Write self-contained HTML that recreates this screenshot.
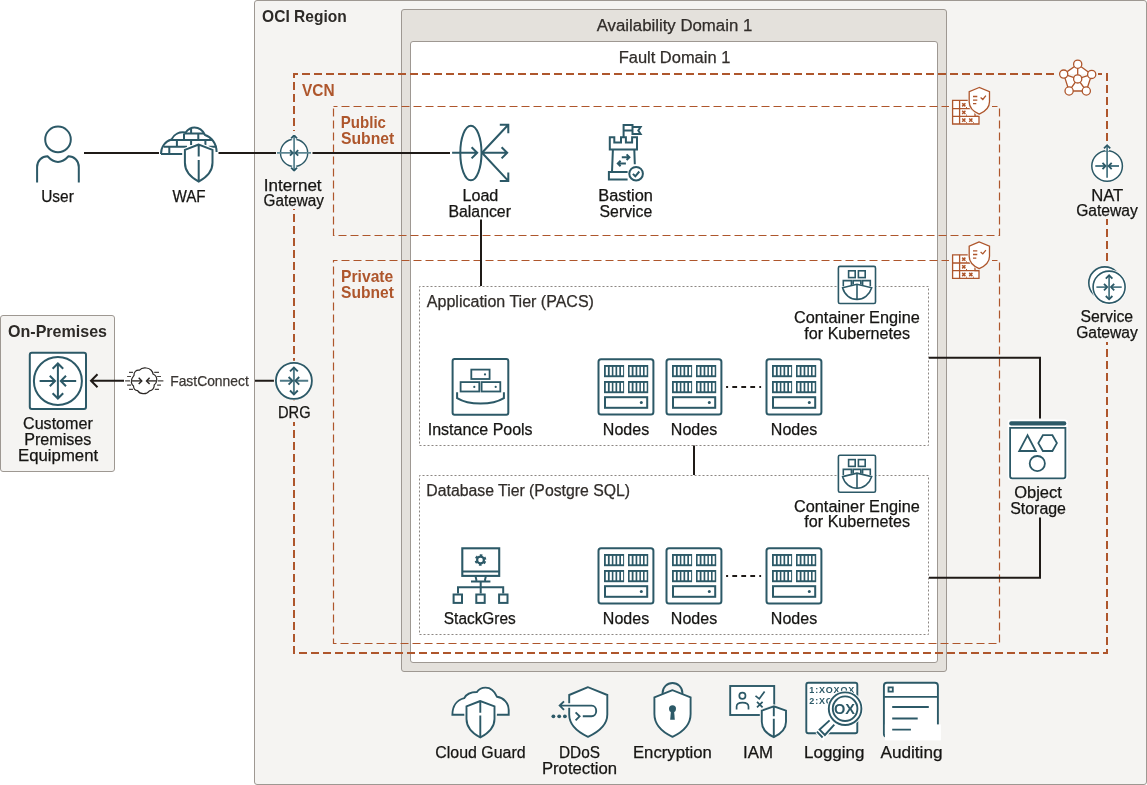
<!DOCTYPE html>
<html><head><meta charset="utf-8"><title>OCI Architecture</title>
<style>
html,body{margin:0;padding:0;background:#fff;width:1147px;height:785px;overflow:hidden}
svg{display:block;will-change:transform}
text{font-family:"Liberation Sans",sans-serif;font-size:16px;fill:#161513;stroke:#161513;stroke-width:0.25px}
.h{fill:#312d2a;stroke:#312d2a}
.fc{font-size:14.5px;fill:#3a3633;stroke:#3a3633}
.b{font-weight:bold;font-size:16.5px;fill:#2d2a27;stroke:none}
.o{fill:#ae562c;font-weight:bold;font-size:16.5px;stroke:none}
.ic{fill:none;stroke:#2c5967;stroke-width:2;stroke-linecap:butt;stroke-linejoin:miter}
.icw{fill:#fff;stroke:#2c5967;stroke-width:2}
.or{fill:none;stroke:#ae562c;stroke-width:1.3}
.orw{fill:#fff;stroke:#ae562c;stroke-width:1.3}
.ln{fill:none;stroke:#1f1a17;stroke-width:2}
</style></head>
<body>
<svg width="1147" height="785" viewBox="0 0 1147 785">
<!-- containers -->
<rect x="254.5" y="0.5" width="892" height="784" rx="2.5" fill="#f5f4f2" stroke="#9e9892" stroke-width="1"/>
<rect x="401.5" y="9.5" width="545" height="662" rx="2.5" fill="#e4e1dc" stroke="#9e9892" stroke-width="1"/>
<rect x="410.5" y="41.5" width="527" height="621" rx="2.5" fill="#fff" stroke="#9e9892" stroke-width="1"/>

<!-- on-premises -->
<rect x="0.5" y="315.5" width="114" height="156" rx="2.5" fill="#f5f4f2" stroke="#9e9892" stroke-width="1"/>

<!-- VCN & subnets -->
<rect x="294" y="74" width="813" height="579" fill="none" stroke="#ae562c" stroke-width="2" stroke-dasharray="8 4" stroke-dashoffset="4"/>
<rect x="333.5" y="106.5" width="666" height="129" fill="none" stroke="#ae562c" stroke-width="1.2" stroke-dasharray="8 4" stroke-dashoffset="4"/>
<rect x="333.5" y="260.5" width="666" height="383" fill="none" stroke="#ae562c" stroke-width="1.2" stroke-dasharray="8 4" stroke-dashoffset="4"/>

<!-- tiers -->
<rect x="419.5" y="286.5" width="509" height="159" fill="none" stroke="#8c8783" stroke-width="1" stroke-dasharray="2 2" stroke-dashoffset="1"/>
<rect x="419.5" y="475.5" width="509" height="159" fill="none" stroke="#8c8783" stroke-width="1" stroke-dasharray="2 2" stroke-dashoffset="1"/>

<!-- connectors -->
<path class="ln" d="M84 153H159 M218.5 153H276 M312.5 153H450 M481 219.5V286 M694 445.5V475 M929 357.8H1040V418.5 M929 577.8H1040V517.5 M255 380.8H274"/>
<path d="M124 380.8H91 M97.5 374.3L91 380.8L97.5 387.3" fill="none" stroke="#1f1a17" stroke-width="2"/>
<path d="M726.1 387H761.1" fill="none" stroke="#1f1a17" stroke-width="2" stroke-dasharray="4.8 4.2" stroke-dashoffset="2.8"/>
<path d="M726.1 576H761.1" fill="none" stroke="#1f1a17" stroke-width="2" stroke-dasharray="4.8 4.2" stroke-dashoffset="2.8"/>

<!-- ICONS -->
<g id="icons">
<!-- User -->
<circle cx="58" cy="139.4" r="12.8" class="ic" stroke-width="2.2"/>
<path class="ic" stroke-width="2.2" d="M37.1 182.4V167C37.1 160.5 42 156.3 47.5 156.3Q58 167.6 68.5 156.3C74 156.3 78.8 160.5 78.8 167V182.4"/>
<!-- WAF -->
<g class="ic" stroke-width="1.8">
<path fill="#fff" d="M161 154C161 146.5 165.5 141 171.5 139.5C174 134 179.5 131.5 185.5 132.6C188 129.5 191 127.6 194.5 127.6C199.5 127.6 203 131 205 135C211.5 137 216.6 143.5 216.6 152"/>
<path d="M161 153.9H182.2 M184.4 133.4H204 M171 140H212 M164 146.8H187 M208.5 146.8H216.5 M191.1 128V133.4 M184 133.4V140 M198.3 133.4V140 M176.9 140V146.8 M191.1 140V145 M205.4 140V145.5 M169.3 146.8V153.9"/>
<path fill="#fff" stroke="#fff" stroke-width="4" d="M198.7 144.5L184.9 149.9V162.8C184.9 171 191 177.5 198.7 181.6C206.4 177.5 212.5 171 212.5 162.8V149.9Z"/>
<path fill="#fff" d="M198.7 144.5L184.9 149.9V162.8C184.9 171 191 177.5 198.7 181.6C206.4 177.5 212.5 171 212.5 162.8V149.9Z M198.7 144.5V156.6 M198.7 160.1V181.6"/>
</g>
<!-- Internet Gateway -->
<circle cx="294.1" cy="152.9" r="13.6" fill="#fff" stroke="#2c5967" stroke-width="1.4"/>
<path fill="none" stroke="#fff" stroke-width="3.5" d="M294.1 134V141 M294.1 164.8V172 M290.8 138.4L294.1 135.1L297.4 138.4 M290.8 167.4L294.1 170.7L297.4 167.4"/>
<path fill="none" stroke="#5d8692" stroke-width="1.8" d="M294.1 135.3V170.7 M277 152.9H311"/>
<path fill="none" stroke="#2c5967" stroke-width="1.8" d="M291.1 138.3L294.1 135.3L297.1 138.3 M291.1 167.7L294.1 170.7L297.1 167.7 M290 150.2L292.7 152.9L290 155.6 M298.2 150.2L295.5 152.9L298.2 155.6"/>
<!-- Load Balancer -->
<g class="ic" stroke-width="2">
<ellipse cx="470.9" cy="153" rx="10.6" ry="27.3"/>
<path d="M452.1 152.8H477 M471.6 147.2L477.2 152.8L471.6 158.4 M482 152.8H507 M501.6 147.2L507.2 152.8L501.6 158.4 M482 152.8L507.8 125.2 M499.8 124.7H508.3V133.2 M482 152.8L507.8 180.4 M499.8 180.9H508.3V172.4"/>
</g>
<!-- Bastion -->
<g class="ic" stroke-width="1.9">
<path d="M609.8 149.6V137.2H614.3V142.5H621V137.2H625.9V142.5H632.1V137.2H637V149.6Z"/>
<path d="M612.9 149.6L612 172 M634.3 149.6L634.8 164.3 M627.6 172H608.9V179.5H627.6"/>
<path d="M623.6 137.2V125.1H632.5V130.4H623.6 M632.5 127H640.6L638.3 130.5L640.6 134H632.5V130.4"/>
<path d="M621.8 157.2H629.2 M626.6 154.4L629.4 157.2L626.6 160 M625.9 163.5H617.8 M620.6 160.7L617.8 163.5L620.6 166.3"/>
<circle cx="636.1" cy="173.7" r="6.8" fill="#fff"/>
<path d="M632.9 173.9L635.3 176.3L639.3 171.5"/>
</g>
<!-- label halos on VCN line -->
<rect x="264" y="171.5" width="60" height="37.5" fill="#f5f4f2"/>
<rect x="277" y="401" width="34" height="21" fill="#f5f4f2"/>
<rect x="1076" y="181" width="62" height="38" fill="#f5f4f2"/>
<rect x="1076" y="302" width="62" height="40" fill="#f5f4f2"/>
<rect x="1057" y="70" width="41" height="8" fill="#f5f4f2"/>
<rect x="949" y="102" width="43" height="8" fill="#f5f4f2"/>
<rect x="949" y="256" width="43" height="8" fill="#f5f4f2"/>
<rect x="290" y="131" width="8" height="4" fill="#f5f4f2"/>
<!-- VCN icon -->
<g fill="none" stroke="#ae562c" stroke-width="1.3">
<path fill="#fff" d="M1077.7 64.2L1091.7 74.4L1086.3 91H1069.1L1063.7 74.1Z M1077.7 64.2V78.9 M1063.7 74.1L1077.7 78.9L1091.7 74.4 M1069.1 91L1077.7 78.9L1086.3 91"/>
<circle cx="1077.7" cy="64.2" r="4.1" fill="#fff"/>
<circle cx="1063.7" cy="74.1" r="4.1" fill="#fff"/>
<circle cx="1091.7" cy="74.4" r="4.1" fill="#fff"/>
<circle cx="1069.1" cy="91" r="4.1" fill="#fff"/>
<circle cx="1086.3" cy="91" r="4.1" fill="#fff"/>
<circle cx="1077.7" cy="78.9" r="4.1" fill="#fff"/>
</g>
<!-- Security lists -->
<g id="sl" fill="none" stroke="#ae562c" stroke-width="1.3">
<path fill="#fff" d="M952.6 100.4H975V116.3H979V124H952.6Z"/>
<path d="M952.6 108.6H975 M952.6 116.3H979 M959.6 100.4V124"/>
<path stroke-width="1.5" d="M962.2 103.2L965.4 106.4M965.4 103.2L962.2 106.4 M962.2 110.8L965.4 114M965.4 110.8L962.2 114 M962.2 118.5L965.4 121.7M965.4 118.5L962.2 121.7 M969.2 118.5L972.4 121.7M972.4 118.5L969.2 121.7"/>
<path stroke-width="1" d="M966.5 107V108 M966.5 114.6V115.6 M966.5 122.3V123.3 M973.5 122.3V123.3"/>
<path fill="#fff" stroke="#f5f4f2" stroke-width="3" d="M979.2 87.5L969.2 91.7V101.8C969.2 107.5 973 111.5 979.2 114.2C985.4 111.5 989.5 107.5 989.5 101.8V91.7Z"/>
<path fill="#fff" d="M979.2 87.5L969.2 91.7V101.8C969.2 107.5 973 111.5 979.2 114.2C985.4 111.5 989.5 107.5 989.5 101.8V91.7Z"/>
<path d="M973 96.5H977.3 M973 100.1H977.3 M973 103.7H976.3 M980.6 97.6L982.8 99.5L985.9 95.7"/>
</g>
<use href="#sl" x="0" y="154.4"/>
<!-- NAT Gateway -->
<circle cx="1107.1" cy="166" r="15.3" fill="#fff" stroke="#2c5967" stroke-width="1.5"/>
<path fill="none" stroke="#fff" stroke-width="3.5" d="M1107.1 144V151"/>
<path fill="none" stroke="#4f7a87" stroke-width="1.8" d="M1107.1 177.8V145.3 M1095.3 166H1105.4 M1119 166H1108.8"/>
<path fill="none" stroke="#2c5967" stroke-width="1.8" d="M1104 148.3L1107.1 145.2L1110.2 148.3 M1102.5 162.9L1105.6 166L1102.5 169.1 M1111.7 162.9L1108.6 166L1111.7 169.1"/>
<!-- Service Gateway -->
<circle cx="1104.8" cy="282.9" r="18.2" fill="#f5f4f2"/>
<circle cx="1104.8" cy="282.9" r="16" fill="#fff" stroke="#2c5967" stroke-width="1.6"/>
<circle cx="1109.1" cy="287.1" r="17.6" fill="#fff"/>
<circle cx="1109.1" cy="287.1" r="16" fill="#fff" stroke="#2c5967" stroke-width="1.6"/>
<path fill="none" stroke="#4f7a87" stroke-width="1.8" d="M1109.1 275.5V299 M1096.4 287.1H1107 M1121.7 287.1H1111.2"/>
<path fill="none" stroke="#2c5967" stroke-width="1.8" d="M1105.8 278.6L1109.1 275.3L1112.4 278.6 M1105.8 296L1109.1 299.3L1112.4 296 M1104 283.9L1107.2 287.1L1104 290.3 M1114.2 283.9L1111 287.1L1114.2 290.3"/>
<!-- Container Engine -->
<g id="oke" fill="none" stroke="#2c5967" stroke-width="1.6">
<rect x="838.4" y="266.4" width="37.1" height="37.1" rx="1.5" fill="#fff"/>
<rect x="848.6" y="270.8" width="6.6" height="6.8"/>
<rect x="858.4" y="270.8" width="6.8" height="6.8"/>
<path d="M843.3 286.3V280.6H851.4V285 M853.2 284.6V280.6H860.8V284.6 M862.6 285V280.6H870.3V286.3"/>
<path fill="#fff" d="M842.6 287.8L857 284.3L871.7 287.8C869.5 295 863.5 299.4 857 299.4C850.5 299.4 844.5 295 842.6 287.8Z"/>
<path d="M857 284.3V299.4"/>
</g>
<use href="#oke" x="0" y="188.8"/>
<!-- Instance Pools -->
<g fill="none" stroke="#2c5967" stroke-width="2">
<rect x="452.6" y="358.9" width="55.7" height="55.8" rx="2"/>
<rect x="471.3" y="369.6" width="18.3" height="9.4" stroke-width="1.8"/>
<rect x="460.6" y="382.1" width="18.7" height="9.4" stroke-width="1.8"/>
<rect x="481.6" y="382.1" width="18.7" height="9.4" stroke-width="1.8"/>
<path d="M457.1 392.2V398.2C463 401.8 471 403.6 480.5 403.6C490 403.6 498 401.8 503.9 398.2V392.2"/>
</g>
<g fill="#2c5967"><circle cx="485" cy="374.4" r="1.1"/><circle cx="474.3" cy="386.9" r="1.1"/><circle cx="495.7" cy="386.9" r="1.1"/></g>
<!-- Node symbol -->
<g id="node">
<rect x="598.5" y="359.2" width="54.9" height="55.3" rx="2.5" fill="#fff" stroke="#2c5967" stroke-width="2"/>
<g fill="#2c5967">
<rect x="604" y="365" width="20.1" height="12.2"/><rect x="628" y="365" width="20.2" height="12.2"/>
<rect x="604" y="381" width="20.1" height="12.2"/><rect x="628" y="381" width="20.2" height="12.2"/>
</g>
<g fill="#fff" id="slits"><rect x="605.8" y="366.9" width="2.1" height="8.4"/><rect x="609.7" y="366.9" width="2.1" height="8.4"/><rect x="613.4" y="366.9" width="2.1" height="8.4"/><rect x="617.2" y="366.9" width="2.1" height="8.4"/><rect x="621.0" y="366.9" width="2.1" height="8.4"/><rect x="629.6" y="366.9" width="2.1" height="8.4"/><rect x="633.5" y="366.9" width="2.1" height="8.4"/><rect x="637.3" y="366.9" width="2.1" height="8.4"/><rect x="640.9" y="366.9" width="2.1" height="8.4"/><rect x="644.6" y="366.9" width="2.1" height="8.4"/></g>
<use href="#slits" x="0" y="16"/>
<rect x="605" y="397.2" width="42.2" height="10.6" fill="none" stroke="#2c5967" stroke-width="2"/>
<circle cx="641.3" cy="402.6" r="1.5" fill="#2c5967"/>
</g>
<use href="#node" x="68" y="0"/>
<use href="#node" x="168" y="0"/>
<use href="#node" x="0" y="189"/>
<use href="#node" x="68" y="189"/>
<use href="#node" x="168" y="189"/>
<!-- StackGres -->
<g fill="none" stroke="#2c5967" stroke-width="2">
<rect x="462.3" y="548.3" width="36.9" height="27.6" stroke-width="2.1"/>
<path d="M462.3 571.5H499.2 M475.6 576.6L476.5 580.4 M485.8 576.6L484.9 580.4 M471 581.4H490.4 M480.7 581.4V593.5 M458 593.5V587.3H503.2V593.5"/>
<rect x="453.6" y="594.5" width="8.4" height="8.4"/>
<rect x="476.3" y="594.5" width="8.4" height="8.4"/>
<rect x="499.1" y="594.5" width="8.4" height="8.4"/>
<circle cx="480.5" cy="560" r="3.4" stroke-width="2.2"/>
<circle cx="480.5" cy="560" r="4.9" stroke-width="1.9" stroke-dasharray="2.6 2.53" stroke-dashoffset="3.83"/>
</g>
<!-- Object Storage -->
<g fill="none" stroke="#2c5967" stroke-width="1.8">
<rect x="1007.7" y="419.6" width="60.1" height="60.3" rx="3" fill="#fff" stroke="none"/>
<rect x="1009.2" y="421.2" width="57.1" height="4.4" rx="2" fill="#2c5967" stroke="none"/>
<path fill="#fff" d="M1010.1 427.9H1065.4V476.3Q1065.4 478.3 1063.4 478.3H1012.1Q1010.1 478.3 1010.1 476.3Z"/>
<path d="M1027.5 435.3L1019.2 451H1035.8Z"/>
<path d="M1038.3 443.1L1042.9 435.2H1052.4L1056.9 443.1L1052.4 451H1042.9Z"/>
<circle cx="1037.3" cy="463.6" r="7.6"/>
</g>
<!-- CPE -->
<g fill="none" stroke="#2c5967" stroke-width="2">
<rect x="29.8" y="352.8" width="56.2" height="56.3" rx="2" fill="#fff"/>
<circle cx="57.9" cy="381" r="24"/>
<path d="M57.9 363.5V398.5 M52.6 368.8L57.9 363.5L63.2 368.8 M52.6 393.2L57.9 398.5L63.2 393.2 M39.6 381H55 M49.8 375.8L55 381L49.8 386.2 M76.2 381H60.8 M66 375.8L60.8 381L66 386.2"/>
</g>
<!-- FastConnect -->
<g fill="none">
<path stroke="#4a4643" stroke-width="1.2" d="M129 372.4H133 M127.1 376.5H131 M125.1 380.9H130 M127.1 385.2H131 M129 389.3H133 M154.2 372.4H159 M157.1 376.5H161 M157.8 380.9H163.4 M157.1 385.2H161 M154.8 389.3H159"/>
<path fill="#fff" stroke="#2a2624" stroke-width="1.2" d="M133.5 386C131.2 384.5 130.8 381 132 378.5C132.8 377 133.5 376 134 375.3C133.8 372 136 369.8 139.5 370.2C141 368.3 144 367.6 146.5 368C150 368.3 152.7 371 153 374C155.5 375 157 377.5 156.7 380.5C156.6 382.5 155.5 384 154.2 385C154.5 388 152.5 390.5 149.5 390.8C148 392.8 145.5 393.8 143 393.6C140.5 393.5 138.5 392 137.6 390.6C135.3 390.5 133.6 388.5 133.5 386Z"/>
<path stroke="#5e5a57" stroke-width="1.6" d="M131.7 380.9H141.2 M146.9 380.9H156.3"/>
<path stroke="#2a2624" stroke-width="1.4" d="M138.7 377.8L141.8 380.9L138.7 384 M149.6 377.8L146.5 380.9L149.6 384"/>
</g>
<!-- DRG -->
<circle cx="293.9" cy="380.8" r="20" fill="#f5f4f2"/>
<circle cx="293.9" cy="380.8" r="18" fill="#fff" stroke="#2c5967" stroke-width="1.8"/>
<path fill="none" stroke="#4f7a87" stroke-width="1.9" d="M293.9 367.6V394.3 M279.9 380.8H291.8 M308.2 380.8H296"/>
<path fill="none" stroke="#2c5967" stroke-width="1.9" d="M290 371.4L293.9 367.5L297.8 371.4 M290 390.5L293.9 394.4L297.8 390.5 M288.6 377L292.4 380.8L288.6 384.6 M299.2 377L295.4 380.8L299.2 384.6"/>
<!-- Cloud Guard -->
<g fill="none" stroke="#2c5967" stroke-width="1.9">
<path fill="#fff" d="M464.3 714.8H452.4C452.4 706 457 700 464.3 698.2C466 694.5 470.5 692 476.9 692C479 688.8 482 687.6 485.5 687.6C490.5 687.6 494.5 691 496.9 696.7C503.5 697.5 508.7 703 508.7 710.1V714.8H496.9"/>
<path fill="#fff" d="M480.3 701L466.5 706.4V718.9C466.5 727 472 733 480.3 737.5C488.6 733 494.5 727 494.5 718.9V706.4Z M480.3 701V712.8 M480.3 715.6V737.5"/>
</g>
<!-- DDoS -->
<g fill="none" stroke="#2c5967" stroke-width="1.9">
<path fill="#fff" d="M588 687.2L569.2 695V714.5C569.2 724.5 576.5 731.5 588 736.8C599.5 731.5 607.3 724.5 607.3 714.5V695Z"/>
<path stroke="#fff" stroke-width="4.5" d="M562 705.6H591.7C594.5 705.6 596.2 708.2 596.2 711C596.2 713.8 594.3 716.3 591.5 716.3H583"/>
<path d="M560 705.6H591.7C594.5 705.6 596.2 708.2 596.2 711C596.2 713.8 594.3 716.3 591.5 716.3H582.8 M564 701.3L559.7 705.6L564 709.9 M575.6 712.3L579.6 716.3L575.6 720.3"/>
<circle cx="553.4" cy="716.3" r="1.9" fill="#2c5967" stroke="none"/>
<circle cx="559.2" cy="716.3" r="1.9" fill="#2c5967" stroke="none"/>
<circle cx="564.9" cy="716.3" r="1.9" fill="#2c5967" stroke="none"/>
</g>
<!-- Encryption -->
<g fill="none" stroke="#2c5967" stroke-width="1.9">
<path d="M662.6 697V692.9A9.9 9.9 0 0 1 682.4 692.9V697"/>
<path fill="#fff" d="M672.5 690.2L654.4 697.3V714C654.4 724.5 661 731.5 672.5 736.8C684 731.5 690.6 724.5 690.6 714V697.3Z"/>
<circle cx="672.5" cy="708.8" r="3.5" fill="#2c5967" stroke="none"/>
<path d="M671 710L670.2 719.8H674.8L674 710Z" fill="#2c5967" stroke="none"/>
</g>
<!-- IAM -->
<g fill="none" stroke="#2c5967" stroke-width="1.9">
<rect x="730.2" y="686" width="44" height="29" fill="#fff"/>
<circle cx="742.4" cy="695.8" r="3.1" stroke-width="1.7"/>
<path stroke-width="1.7" d="M736.6 709.5V706.5C736.6 704 739 702.6 742.5 702.6C746 702.6 748.5 704 748.5 706.5V709.5 M755.5 695.8L759.3 698.8L764.6 691.6 M757 701.8L762.6 707.4 M762.6 701.8L757 707.4"/>
<path fill="#fff" stroke="#f5f4f2" stroke-width="4" d="M773.8 706.3L761.8 710.7V721.8C761.8 729 766 733.5 773.8 737.2C781.6 733.5 786 729 786 721.8V710.7Z"/>
<path fill="#fff" d="M773.8 706.3L761.8 710.7V721.8C761.8 729 766 733.5 773.8 737.2C781.6 733.5 786 729 786 721.8V710.7Z M773.8 706.3V716.3 M773.8 718.8V737.2"/>
</g>
<!-- Logging -->
<g fill="none" stroke="#2c5967" stroke-width="1.9">
<rect x="806.3" y="682.7" width="51" height="50.5" rx="2" fill="#fff"/>
<text x="809.3" y="692.6" style="font-size:9px;font-weight:bold;fill:#2c5967;stroke:none" textLength="45" lengthAdjust="spacing">1:XOXOX</text>
<text x="809.3" y="704" style="font-size:9px;font-weight:bold;fill:#2c5967;stroke:none" textLength="45" lengthAdjust="spacing">2:XOXOX</text>
<circle cx="845.1" cy="708.7" r="18.2" fill="#fff" stroke="none"/>
<path fill="#fff" stroke="#fff" stroke-width="4" d="M829.6 720.4L834.3 724.6L824.8 735.2L817 731.6L822.6 737.6Z"/>
<path fill="#fff" d="M829.6 720.4L819.6 729.6L824.9 735L834.3 724.6 M816.9 731.6L822.6 737.5"/>
<circle cx="845.1" cy="708.7" r="16.3"/>
<circle cx="845.1" cy="708.7" r="12.3"/>
<text x="844.5" y="713.6" text-anchor="middle" style="font-size:13.8px;font-weight:bold;fill:#2c5967;stroke:none" textLength="21" lengthAdjust="spacingAndGlyphs">OX</text>
</g>
<!-- Auditing -->
<g fill="none" stroke="#2c5967" stroke-width="1.9">
<rect x="883.9" y="682.8" width="54" height="54" rx="3" fill="#fff"/>
<rect x="884.9" y="724.4" width="56" height="16" fill="#fff" stroke="none"/>
<path d="M883.9 696.9H937.9 M892.2 707H928.8 M892.2 718.5H917.7 M892.2 729.6H910.9"/>
<rect x="888.5" y="687.4" width="4.3" height="4.2" stroke-width="1.8"/>
</g>
<!--ICONS4-->
</g>

<!-- labels -->
<text x="304.4" y="21.6" text-anchor="middle" class="b" textLength="84.6" lengthAdjust="spacingAndGlyphs">OCI Region</text>
<text x="674.5" y="30.6" text-anchor="middle" class="h" textLength="155.6" lengthAdjust="spacingAndGlyphs">Availability Domain 1</text>
<text x="674.5" y="62.5" text-anchor="middle" class="h" textLength="111.6" lengthAdjust="spacingAndGlyphs">Fault Domain 1</text>
<text x="318.3" y="95.7" text-anchor="middle" class="o" textLength="32.6" lengthAdjust="spacingAndGlyphs">VCN</text>
<text x="363.4" y="127.8" text-anchor="middle" class="o" textLength="45.1" lengthAdjust="spacingAndGlyphs">Public</text>
<text x="367.6" y="143.5" text-anchor="middle" class="o" textLength="53.3" lengthAdjust="spacingAndGlyphs">Subnet</text>
<text x="367.2" y="281.8" text-anchor="middle" class="o" textLength="52.2" lengthAdjust="spacingAndGlyphs">Private</text>
<text x="367.5" y="297.7" text-anchor="middle" class="o" textLength="52.8" lengthAdjust="spacingAndGlyphs">Subnet</text>
<text x="57.5" y="202.0" text-anchor="middle" textLength="32.6" lengthAdjust="spacingAndGlyphs">User</text>
<text x="189.0" y="202.0" text-anchor="middle" textLength="33.2" lengthAdjust="spacingAndGlyphs">WAF</text>
<text x="292.7" y="190.6" text-anchor="middle" textLength="57.8" lengthAdjust="spacingAndGlyphs">Internet</text>
<text x="293.7" y="206.0" text-anchor="middle" textLength="60.4" lengthAdjust="spacingAndGlyphs">Gateway</text>
<text x="480.4" y="200.6" text-anchor="middle" textLength="35.9" lengthAdjust="spacingAndGlyphs">Load</text>
<text x="479.7" y="216.5" text-anchor="middle" textLength="62.5" lengthAdjust="spacingAndGlyphs">Balancer</text>
<text x="625.6" y="200.6" text-anchor="middle" textLength="54.5" lengthAdjust="spacingAndGlyphs">Bastion</text>
<text x="625.9" y="216.5" text-anchor="middle" textLength="52.6" lengthAdjust="spacingAndGlyphs">Service</text>
<text x="1107.2" y="200.6" text-anchor="middle" textLength="32.1" lengthAdjust="spacingAndGlyphs">NAT</text>
<text x="1107.0" y="216.1" text-anchor="middle" textLength="61.7" lengthAdjust="spacingAndGlyphs">Gateway</text>
<text x="1106.8" y="322.3" text-anchor="middle" textLength="52.7" lengthAdjust="spacingAndGlyphs">Service</text>
<text x="1107.0" y="337.6" text-anchor="middle" textLength="61.7" lengthAdjust="spacingAndGlyphs">Gateway</text>
<text x="856.9" y="322.7" text-anchor="middle" textLength="125.8" lengthAdjust="spacingAndGlyphs">Container Engine</text>
<text x="857.2" y="338.5" text-anchor="middle" textLength="105.7" lengthAdjust="spacingAndGlyphs">for Kubernetes</text>
<text x="510.4" y="307.3" text-anchor="middle" class="h" textLength="167.1" lengthAdjust="spacingAndGlyphs">Application Tier (PACS)</text>
<text x="480.2" y="434.5" text-anchor="middle" textLength="104.8" lengthAdjust="spacingAndGlyphs">Instance Pools</text>
<text x="626.0" y="434.9" text-anchor="middle" textLength="46.3" lengthAdjust="spacingAndGlyphs">Nodes</text>
<text x="694.0" y="434.9" text-anchor="middle" textLength="46.3" lengthAdjust="spacingAndGlyphs">Nodes</text>
<text x="794.0" y="434.9" text-anchor="middle" textLength="46.3" lengthAdjust="spacingAndGlyphs">Nodes</text>
<text x="528.2" y="496.3" text-anchor="middle" class="h" textLength="203.7" lengthAdjust="spacingAndGlyphs">Database Tier (Postgre SQL)</text>
<text x="856.9" y="511.5" text-anchor="middle" textLength="125.8" lengthAdjust="spacingAndGlyphs">Container Engine</text>
<text x="857.2" y="527.3" text-anchor="middle" textLength="105.7" lengthAdjust="spacingAndGlyphs">for Kubernetes</text>
<text x="479.8" y="623.7" text-anchor="middle" textLength="71.9" lengthAdjust="spacingAndGlyphs">StackGres</text>
<text x="626.0" y="623.7" text-anchor="middle" textLength="46.3" lengthAdjust="spacingAndGlyphs">Nodes</text>
<text x="694.0" y="623.7" text-anchor="middle" textLength="46.3" lengthAdjust="spacingAndGlyphs">Nodes</text>
<text x="794.0" y="623.7" text-anchor="middle" textLength="46.3" lengthAdjust="spacingAndGlyphs">Nodes</text>
<text x="1038.0" y="497.8" text-anchor="middle" textLength="47.7" lengthAdjust="spacingAndGlyphs">Object</text>
<text x="1038.1" y="513.9" text-anchor="middle" textLength="55.8" lengthAdjust="spacingAndGlyphs">Storage</text>
<text x="57.5" y="336.8" text-anchor="middle" class="b" textLength="99.0" lengthAdjust="spacingAndGlyphs">On-Premises</text>
<text x="57.9" y="428.5" text-anchor="middle" textLength="69.8" lengthAdjust="spacingAndGlyphs">Customer</text>
<text x="57.8" y="444.6" text-anchor="middle" textLength="67.2" lengthAdjust="spacingAndGlyphs">Premises</text>
<text x="58.1" y="460.5" text-anchor="middle" textLength="80.0" lengthAdjust="spacingAndGlyphs">Equipment</text>
<text x="209.5" y="385.7" text-anchor="middle" class="fc" textLength="78.6" lengthAdjust="spacingAndGlyphs">FastConnect</text>
<text x="294.3" y="418.2" text-anchor="middle" textLength="32.6" lengthAdjust="spacingAndGlyphs">DRG</text>
<text x="480.4" y="757.6" text-anchor="middle" textLength="90.3" lengthAdjust="spacingAndGlyphs">Cloud Guard</text>
<text x="579.5" y="757.6" text-anchor="middle" textLength="41.0" lengthAdjust="spacingAndGlyphs">DDoS</text>
<text x="579.5" y="773.7" text-anchor="middle" textLength="75.1" lengthAdjust="spacingAndGlyphs">Protection</text>
<text x="672.4" y="757.9" text-anchor="middle" textLength="78.8" lengthAdjust="spacingAndGlyphs">Encryption</text>
<text x="758.0" y="757.6" text-anchor="middle" textLength="30.0" lengthAdjust="spacingAndGlyphs">IAM</text>
<text x="834.2" y="757.6" text-anchor="middle" textLength="60.3" lengthAdjust="spacingAndGlyphs">Logging</text>
<text x="911.5" y="757.6" text-anchor="middle" textLength="62.0" lengthAdjust="spacingAndGlyphs">Auditing</text>
</svg>
</body></html>
